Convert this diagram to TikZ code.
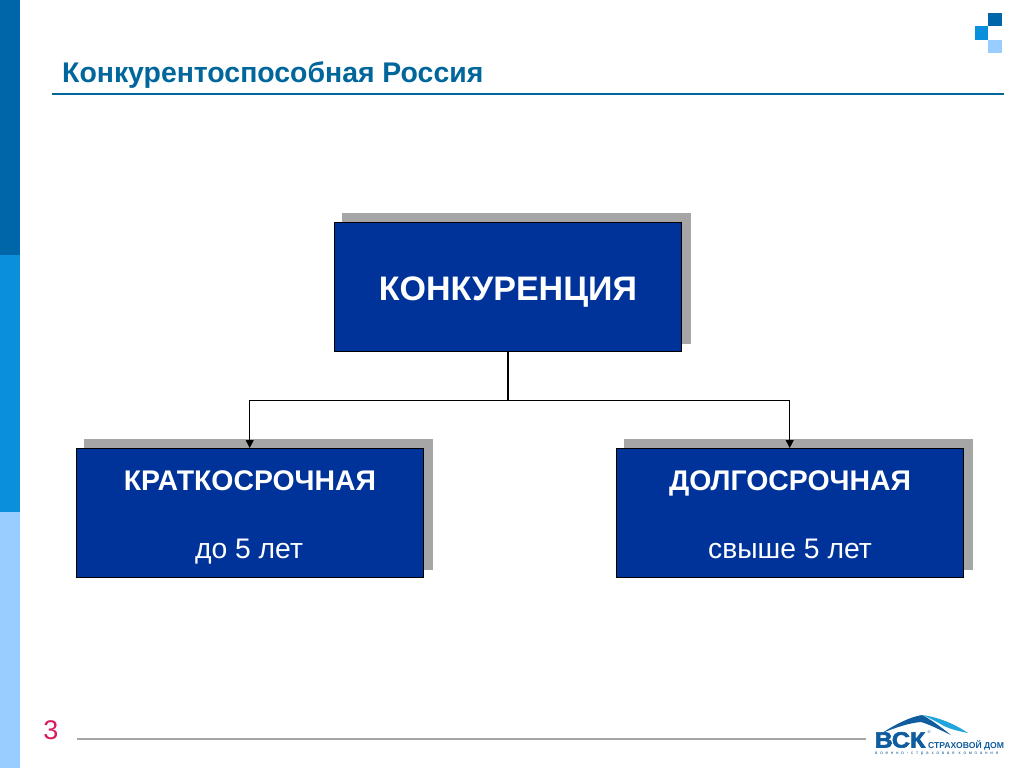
\documentclass[tikz,border=0pt]{standalone}
\usepackage{fontspec}
\setmainfont{Liberation Sans}
\usetikzlibrary{arrows.meta}
\definecolor{boxblue}{HTML}{003399}
\definecolor{shadowgray}{HTML}{A6A6A6}
\definecolor{titleblue}{HTML}{00669C}
\definecolor{band1}{HTML}{0066AA}
\definecolor{band2}{HTML}{0A8FDC}
\definecolor{band3}{HTML}{99CCFF}
\definecolor{pagenum}{HTML}{D81B60}
\definecolor{logoblue}{HTML}{0F5C9E}
\definecolor{logolight}{HTML}{22A5DC}
\tikzset{
  x=1pt,y=-1pt,
  bluebox/.style={draw=black,line width=0.9pt,fill=boxblue,anchor=north west,inner sep=0pt,outer sep=0pt,minimum width=347.4pt,minimum height=129.5pt},
  connector/.style={draw=black,line width=1pt},
  arrowline/.style={connector,-{Triangle[length=8pt,width=8pt]}},
  boxlabel/.style={anchor=base,inner sep=0pt,text=white},
  boxhead/.style={boxlabel,font=\fontsize{28.4}{32}\selectfont\bfseries},
  boxsub/.style={boxlabel,font=\fontsize{28.3}{32}\selectfont},
  logotxt/.style={anchor=base west,inner sep=0pt,text=logoblue},
}
\begin{document}
\begin{tikzpicture}
\useasboundingbox (0,0) rectangle (1024,768);
\fill[white] (0,0) rectangle (1024,768);
% left bands
\fill[band1] (0,0) rectangle (20,255);
\fill[band2] (0,255) rectangle (20,512);
\fill[band3] (0,512) rectangle (20,768);
% corner squares
\fill[band1] (988,13) rectangle (1002,26);
\fill[band2] (975,26) rectangle (988,40);
\fill[band3] (988,40) rectangle (1002,53);
% title
\node[anchor=base west,inner sep=0pt,text=titleblue,font=\fontsize{28.4}{32}\selectfont\bfseries] (title) at (62,82) {Конкурентоспособная Россия};
\coordinate (ruleL) at (52,94);
\coordinate (ruleR) at (1004,94);
\draw[titleblue,line width=2pt] (ruleL) -- (ruleR);
% shadows
\fill[shadowgray] (342,213) rectangle (691,344);
\fill[shadowgray] (84,439) rectangle (433,570);
\fill[shadowgray] (624,439) rectangle (973,570);
% boxes
\node[bluebox] (top) at (334,222) {};
\node[bluebox] (left) at (76,448) {};
\node[bluebox] (right) at (616,448) {};
\node[boxlabel,font=\fontsize{34}{38}\selectfont\bfseries] (toplabel) at (508,300) {КОНКУРЕНЦИЯ};
\node[boxhead] (lefthead) at (250,490) {КРАТКОСРОЧНАЯ};
\node[boxsub] (leftsub) at (249,558) {до 5 лет};
\node[boxhead] (righthead) at (790,490) {ДОЛГОСРОЧНАЯ};
\node[boxsub] (rightsub) at (790,558) {свыше 5 лет};
% connectors
\coordinate (fork) at (508,400);
\draw[connector,line width=1.6pt] (top.south -| fork) -- (fork);
\draw[arrowline] (fork) -| (left.north);
\draw[arrowline] (fork) -| (right.north);
% footer
\node[anchor=base,inner sep=0pt,text=pagenum,font=\fontsize{27}{32}\selectfont] (num) at (51,739) {3};
\coordinate (footL) at (77,739);
\coordinate (footR) at (866,739);
\draw[shadowgray,line width=2.4pt] (footL) -- (footR);
% logo
\fill[logoblue] (882,733) .. controls (896,724) and (910,717) .. (922,715) .. controls (932,720) and (942,728) .. (951,735) .. controls (940,730) and (931,725) .. (921,722) .. controls (908,723) and (895,728) .. (882,733) -- cycle;
\fill[logolight] (922,715) .. controls (938,717) and (955,724) .. (968,733) .. controls (958,731) and (950,729) .. (944,726) .. controls (937,722) and (930,718) .. (922,715) -- cycle;
\node[logotxt,font=\fontsize{22}{24}\selectfont\bfseries] (logotext) at (874.5,747.5) {\addfontfeature{FakeStretch=1.14,FakeBold=3}ВСК};
\node[logotxt,font=\fontsize{8.6}{10}\selectfont\bfseries] (logosub) at (928,748) {СТРАХОВОЙ ДОМ};
\node[anchor=center,inner sep=0pt,text=logoblue,font=\fontsize{4}{5}\selectfont] (logoreg) at (929,732) {®};
\node[logotxt,font=\fontsize{4.5}{5}\selectfont] (logotiny) at (875,754) {\addfontfeature{LetterSpace=62}военно-страховая компания};
\end{tikzpicture}
\end{document}
